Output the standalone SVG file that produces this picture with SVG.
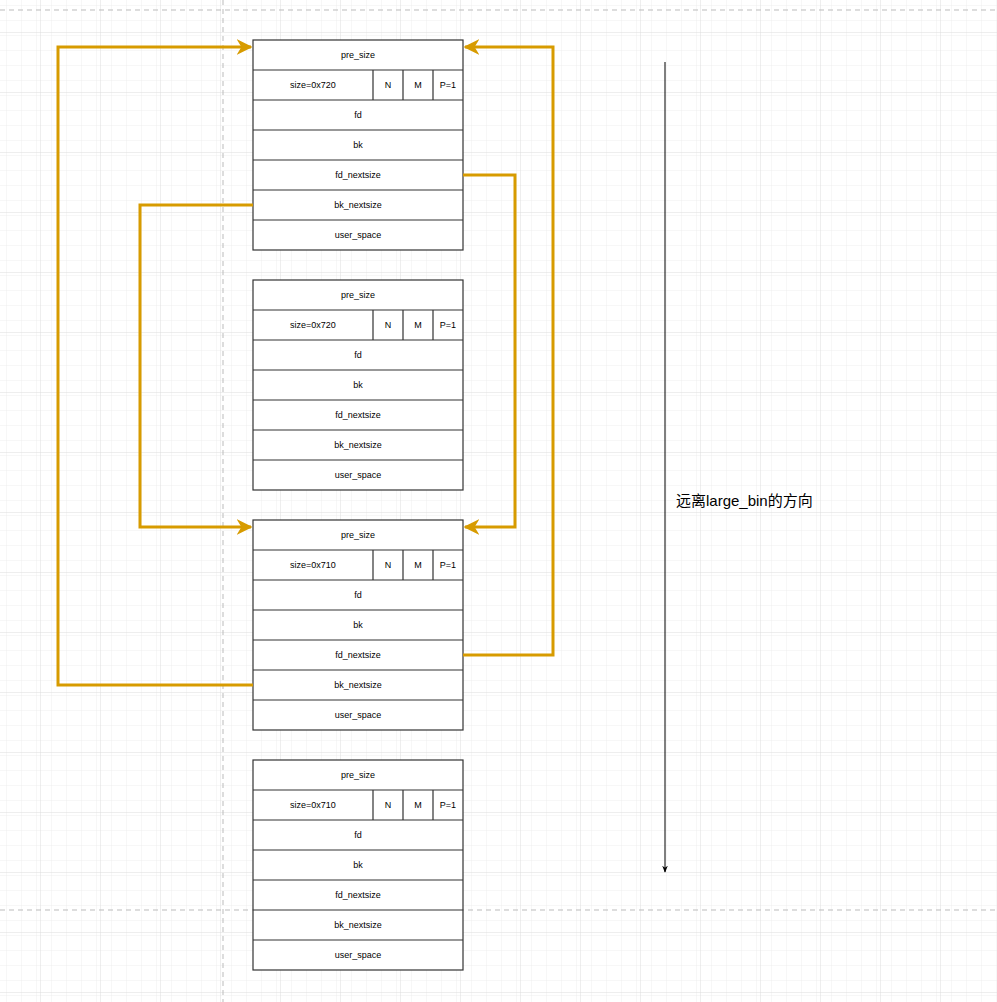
<svg xmlns="http://www.w3.org/2000/svg" width="997" height="1002" viewBox="0 0 997 1002">
<style>
.c{fill:#fff;stroke:#333;stroke-width:1.2}
.t{font-family:"Liberation Sans",Arial,sans-serif;font-size:9px;fill:#000;text-anchor:middle;dominant-baseline:central}
.o{fill:none;stroke:#d79b00;stroke-width:3}
</style>
<defs>
<pattern id="g" width="15" height="15" patternUnits="userSpaceOnUse" x="11" y="3"><path d="M15 0V15M0 15H15" fill="none" stroke="#eee" stroke-width="1"/></pattern>
<pattern id="G" width="60" height="60" patternUnits="userSpaceOnUse" x="41" y="33"><rect width="60" height="60" fill="url(#g)"/><path d="M60 0V60M0 60H60" fill="none" stroke="#ddd" stroke-width="1"/></pattern>
<marker id="a" viewBox="0 0 10 10" refX="9" refY="5" markerWidth="5" markerHeight="5" orient="auto" markerUnits="userSpaceOnUse"><path d="M0 0L10 5L0 10L3 5z" fill="#d79b00"/></marker>
<marker id="b" viewBox="0 0 10 10" refX="9" refY="5" markerWidth="7" markerHeight="7" orient="auto" markerUnits="userSpaceOnUse"><path d="M0 1L10 5L0 9L3 5z" fill="#000"/></marker>
<marker id="a2" viewBox="0 0 10 10" refX="9" refY="5" markerWidth="16" markerHeight="16" orient="auto" markerUnits="userSpaceOnUse"><path d="M0 0L10 5L0 10L3 5z" fill="#d79b00"/></marker>
</defs>
<rect width="997" height="1002" fill="#fff"/>
<rect width="997" height="1002" fill="url(#G)"/>
<path d="M0 10H997M0 910H997M223 0V1002" stroke="#bbb" stroke-dasharray="5,4" fill="none"/>
<g id="block1" transform="translate(253,40)">
<rect class="c" width="210" height="210"/><path class="c" d="M0 30H210M0 60H210M0 90H210M0 120H210M0 150H210M0 180H210M120 30V60M150 30V60M180 30V60"/>
<text class="t" x="105" y="15">pre_size</text><text class="t" x="60" y="45">size=0x720</text><text class="t" x="135" y="45">N</text><text class="t" x="165" y="45">M</text><text class="t" x="195" y="45">P=1</text><text class="t" x="105" y="75">fd</text><text class="t" x="105" y="105">bk</text><text class="t" x="105" y="135">fd_nextsize</text><text class="t" x="105" y="165">bk_nextsize</text><text class="t" x="105" y="195">user_space</text>
</g>
<g id="block2" transform="translate(253,280)">
<rect class="c" width="210" height="210"/><path class="c" d="M0 30H210M0 60H210M0 90H210M0 120H210M0 150H210M0 180H210M120 30V60M150 30V60M180 30V60"/>
<text class="t" x="105" y="15">pre_size</text><text class="t" x="60" y="45">size=0x720</text><text class="t" x="135" y="45">N</text><text class="t" x="165" y="45">M</text><text class="t" x="195" y="45">P=1</text><text class="t" x="105" y="75">fd</text><text class="t" x="105" y="105">bk</text><text class="t" x="105" y="135">fd_nextsize</text><text class="t" x="105" y="165">bk_nextsize</text><text class="t" x="105" y="195">user_space</text>
</g>
<g id="block3" transform="translate(253,520)">
<rect class="c" width="210" height="210"/><path class="c" d="M0 30H210M0 60H210M0 90H210M0 120H210M0 150H210M0 180H210M120 30V60M150 30V60M180 30V60"/>
<text class="t" x="105" y="15">pre_size</text><text class="t" x="60" y="45">size=0x710</text><text class="t" x="135" y="45">N</text><text class="t" x="165" y="45">M</text><text class="t" x="195" y="45">P=1</text><text class="t" x="105" y="75">fd</text><text class="t" x="105" y="105">bk</text><text class="t" x="105" y="135">fd_nextsize</text><text class="t" x="105" y="165">bk_nextsize</text><text class="t" x="105" y="195">user_space</text>
</g>
<g id="block4" transform="translate(253,760)">
<rect class="c" width="210" height="210"/><path class="c" d="M0 30H210M0 60H210M0 90H210M0 120H210M0 150H210M0 180H210M120 30V60M150 30V60M180 30V60"/>
<text class="t" x="105" y="15">pre_size</text><text class="t" x="60" y="45">size=0x710</text><text class="t" x="135" y="45">N</text><text class="t" x="165" y="45">M</text><text class="t" x="195" y="45">P=1</text><text class="t" x="105" y="75">fd</text><text class="t" x="105" y="105">bk</text><text class="t" x="105" y="135">fd_nextsize</text><text class="t" x="105" y="165">bk_nextsize</text><text class="t" x="105" y="195">user_space</text>
</g>
<g id="connectors">
<path class="o" d="M463 175H515V527H465" marker-end="url(#a2)"/>
<path class="o" d="M253 205H140V527H251" marker-end="url(#a2)"/>
<path class="o" d="M463 655H553V47H465" marker-end="url(#a2)"/>
<path class="o" d="M253 685H58V47H251" marker-end="url(#a2)"/>
<path d="M665 62V872" stroke="#000" stroke-width="1" fill="none" marker-end="url(#b)"/>
</g>
<text x="676" y="500" font-family="'Liberation Sans','Noto Sans CJK SC',sans-serif" font-size="15" dominant-baseline="central">远离large_bin的方向</text>
</svg>
